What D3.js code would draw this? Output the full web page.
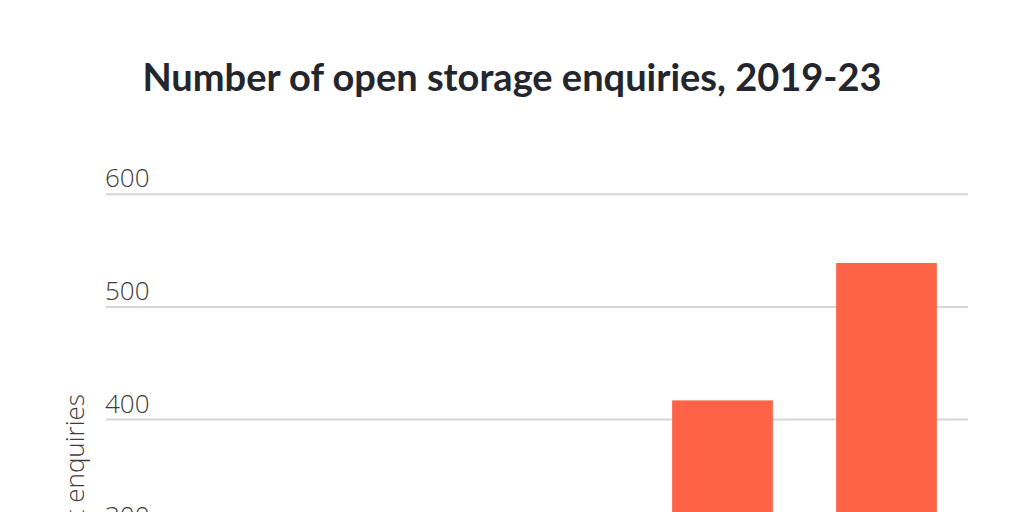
<!DOCTYPE html>
<html>
<head>
<meta charset="utf-8">
<script src="https://cdn.jsdelivr.net/npm/d3@7"></script>
<style>
  html, body { margin: 0; padding: 0; background: #fff; }
  svg { display: block; }
</style>
</head>
<body>
<div id="chart"></div>
<script>
// Data (2019-2021 bars fall below the visible frame; estimated)
const years = ["2019", "2020", "2021", "2022", "2023"];
const enquiries = [160, 195, 255, 417, 539];
const yTicks = [0, 100, 200, 300, 400, 500, 600];
const titleText = "Number of open storage enquiries, 2019-23";
const yLabel = "Number of direct enquiries";

const width = 1024, height = 512;

const svg = d3.select("#chart")
    .append("svg")
    .attr("width", width)
    .attr("height", height);

// y scale: 600 sits at ~194, 400 at ~419.5
const y = d3.scaleLinear()
    .domain([0, 600])
    .range([870, 194.3]);

const x = d3.scaleBand()
    .domain(years)
    .range([149, 968])
    .paddingInner(0.386)
    .paddingOuter(0.19);

const gridLeft = 106, gridRight = 968;

// Gridlines + tick labels
const grid = svg.append("g");
grid.selectAll("line")
    .data(yTicks.filter(d => d > 0))
    .enter()
    .append("line")
    .attr("x1", gridLeft)
    .attr("x2", gridRight)
    .attr("y1", d => y(d))
    .attr("y2", d => y(d))
    .attr("stroke", "#d6d6d6")
    .attr("stroke-width", 2);

grid.selectAll("text")
    .data(yTicks)
    .enter()
    .append("text")
    .attr("x", gridLeft - 1)
    .attr("y", d => y(d) - 7)
    .attr("font-family", "'Open Sans', sans-serif")
    .attr("font-weight", 300)
    .attr("font-size", 26)
    .attr("fill", "#3d3d3d")
    .text(d => d);

// Bars
svg.selectAll("rect.bar")
    .data(years)
    .enter()
    .append("rect")
    .attr("class", "bar")
    .attr("x", d => x(d))
    .attr("width", x.bandwidth())
    .attr("y", (d, i) => y(enquiries[i]))
    .attr("height", (d, i) => y(0) - y(enquiries[i]))
    .attr("fill", "#ff6347");

// Y axis label (rotated)
svg.append("text")
    .attr("transform", "translate(84," + 394 + ") rotate(-90)")
    .attr("text-anchor", "end")
    .attr("font-family", "'Open Sans', sans-serif")
    .attr("font-weight", 300)
    .attr("font-size", 26)
    .attr("fill", "#3d3d3d")
    .text(yLabel);

// Title
svg.append("text")
    .attr("x", 512)
    .attr("y", 91)
    .attr("text-anchor", "middle")
    .attr("font-family", "Lato, sans-serif")
    .attr("font-weight", 700)
    .attr("font-size", 38)
    .attr("fill", "#23262d")
    .text(titleText);
</script>
</body>
</html>
